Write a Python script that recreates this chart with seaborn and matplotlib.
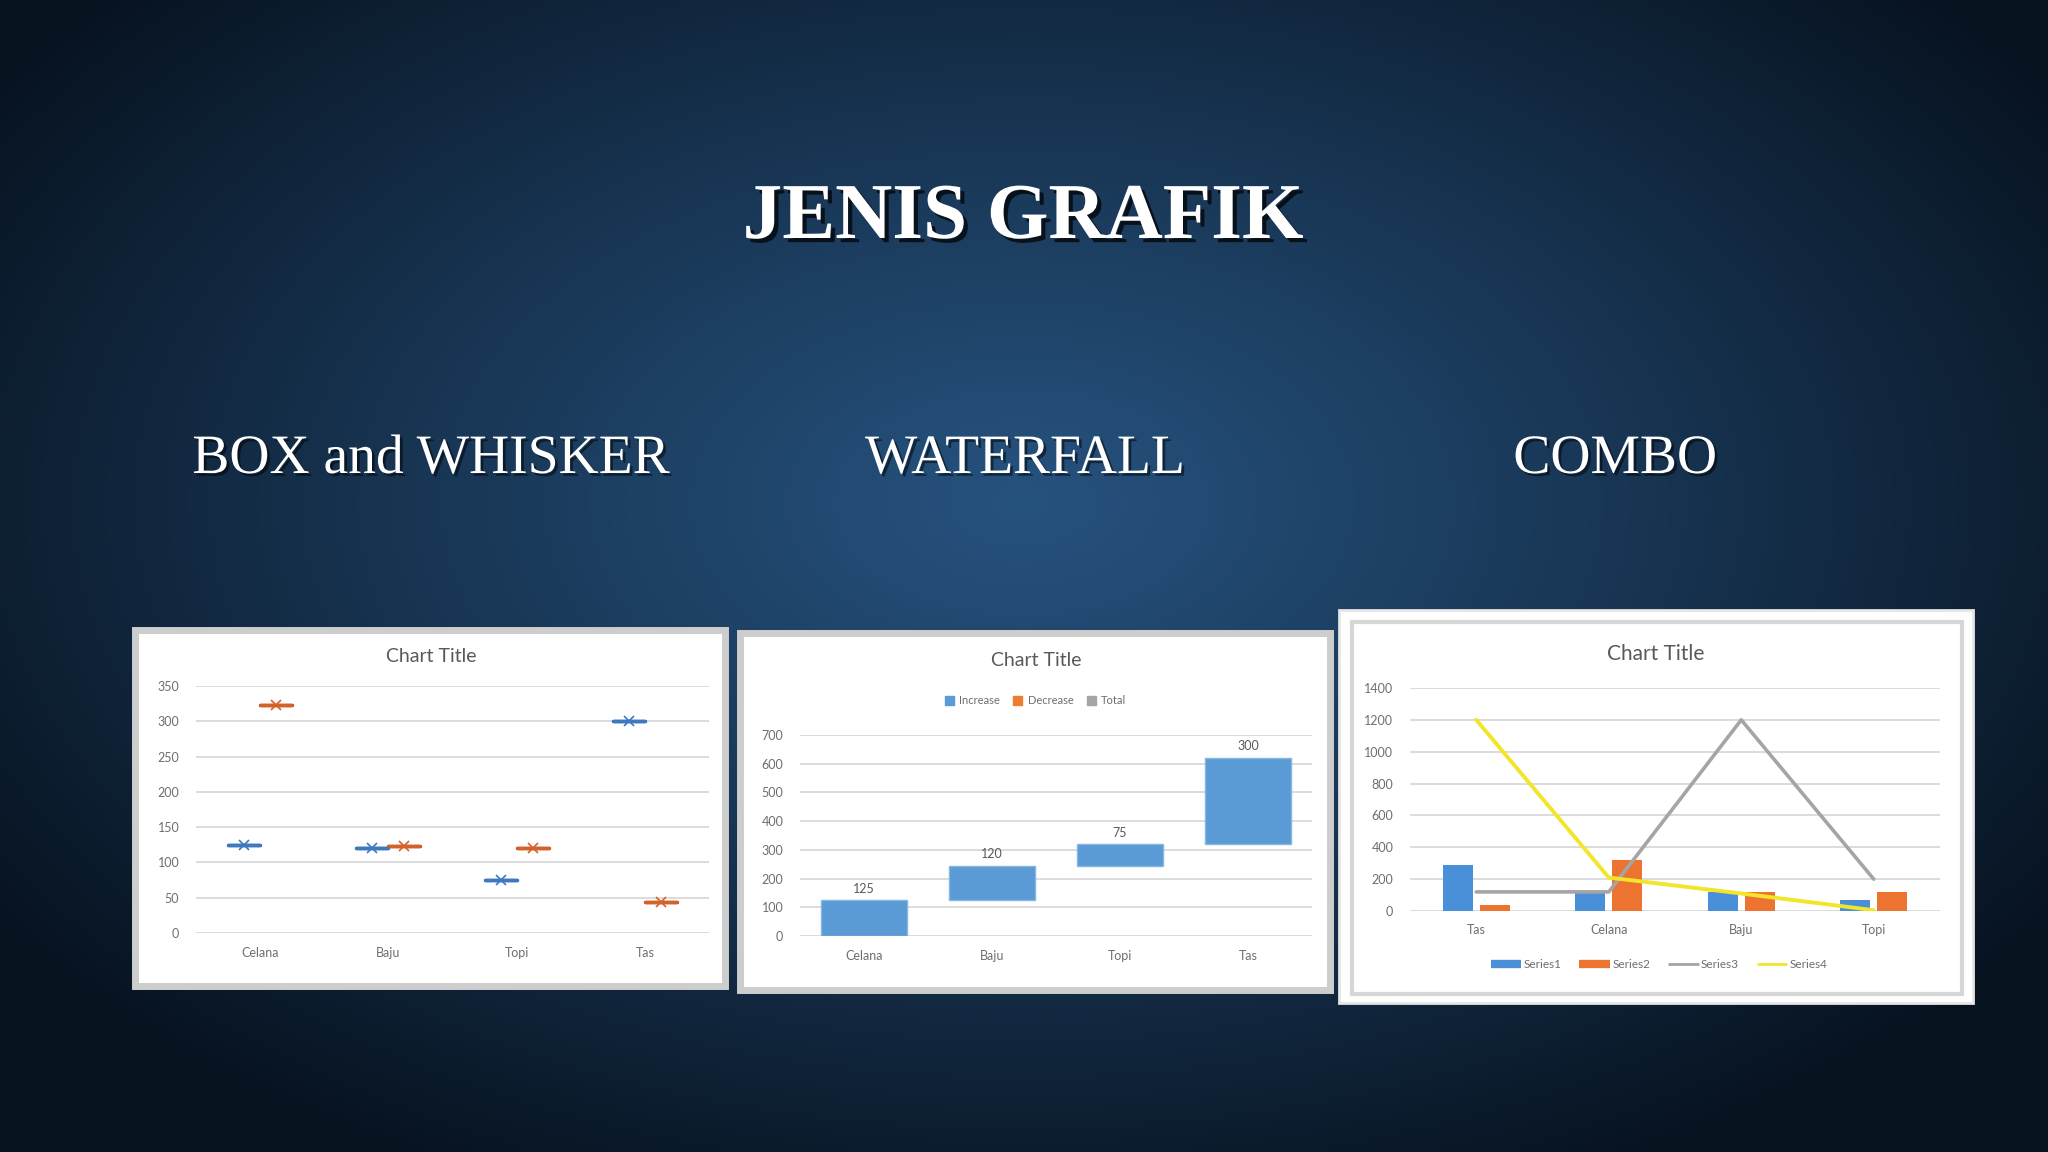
import numpy as np
import pandas as pd
import matplotlib
matplotlib.use("Agg")
import matplotlib.pyplot as plt
import matplotlib.patheffects as pe
import seaborn as sns
from matplotlib.patches import Rectangle, Patch
from matplotlib.lines import Line2D

# --- data: box and whisker ---
box_items = ["Celana", "Baju", "Topi", "Tas"]
box_seri1 = [125, 120, 75, 300]
box_seri2 = [323, 123, 120, 44]

# --- data: waterfall ---
wf_items = ["Celana", "Baju", "Topi", "Tas"]
wf_vals = [125, 120, 75, 300]
wf_labels = ["125", "120", "75", "300"]
wf_legend = ["Increase", "Decrease", "Total"]

# --- data: combo ---
combo_items = ["Tas", "Celana", "Baju", "Topi"]
combo_s1 = [290, 120, 120, 70]
combo_s2 = [40, 320, 120, 120]
combo_s3 = [120, 120, 1200, 200]
combo_s4 = [1200, 210, 110, 5]
combo_names = ["Series1", "Series2", "Series3", "Series4"]

W, H = 2048, 1152
GRID = "#D9D9D9"
TXT = "#6E6E6E"
BLUE, ORANGE, GRAY, YELLOW = "#4A90D9", "#EC7430", "#A5A5A5", "#F2E52A"

sns.set_theme(style="white")
plt.rcParams["font.family"] = ["Lato", "DejaVu Sans"]

fig = plt.figure(figsize=(20.48, 11.52), dpi=100)


def fax(x0, y0, x1, y1):
    # pixel box, origin top-left
    return fig.add_axes([x0 / W, 1 - y1 / H, (x1 - x0) / W, (y1 - y0) / H])


def panel(x0, y0, x1, y1, edge, lw):
    fig.add_artist(Rectangle((x0 / W, 1 - y1 / H), (x1 - x0) / W, (y1 - y0) / H,
                             transform=fig.transFigure, facecolor="white",
                             edgecolor=edge, linewidth=lw, zorder=0))


def gaya(ax, ymax, step, ypad=12, xpad=10):
    ax.set_xlim(-0.5, 3.5)
    ax.set_ylim(0, ymax)
    ax.set_yticks(np.arange(0, ymax + 1, step))
    ax.grid(axis="y", color=GRID, linewidth=1.3)
    ax.grid(axis="x", visible=False)
    ax.set_axisbelow(True)
    sns.despine(ax=ax, left=True, bottom=True)
    ax.tick_params(axis="y", length=0, labelsize=9, labelcolor=TXT, pad=ypad)
    ax.tick_params(axis="x", length=0, labelsize=9, labelcolor=TXT, pad=xpad)
    ax.set_xlabel("")
    ax.set_ylabel("")
    ax.set_facecolor("none")


# background
bg = fig.add_axes([0, 0, 1, 1], zorder=-10)
yy, xx = np.mgrid[0:H:4, 0:W:4]
r = np.sqrt(((xx - 1020) / 1250) ** 2 + ((yy - 500) / 760) ** 2)
t = np.clip(r, 0, 1) ** 1.1
c0 = np.array([38, 82, 126]) / 255
c1 = np.array([7, 18, 31]) / 255
img = c0 * (1 - t[..., None]) + c1 * t[..., None]
bg.imshow(img, extent=[0, W, H, 0], aspect="auto", interpolation="bilinear")
bg.set_axis_off()

# slide text
shadow = [pe.withSimplePatchShadow(offset=(3, -3), shadow_rgbFace="black", alpha=0.7)]
fig.text(1023 / W, 1 - 238 / H, "JENIS GRAFIK", family="Liberation Serif",
         weight="bold", fontsize=57, color="white", ha="center", va="baseline",
         path_effects=shadow)
soft = [pe.withSimplePatchShadow(offset=(2, -2), shadow_rgbFace="black", alpha=0.5)]
for xc, label in [(431, "BOX and WHISKER"), (1025, "WATERFALL"), (1615, "COMBO")]:
    fig.text(xc / W, 1 - 473 / H, label, family="Liberation Serif", fontsize=40,
             color="white", ha="center", va="baseline", path_effects=soft)

# ---------- box and whisker ----------
panel(135, 630, 725, 986, "#CDCDCD", 5)
ax1 = fax(196, 686, 709, 933)
box_df = pd.DataFrame({
    "item": box_items * 2,
    "nilai": box_seri1 + box_seri2,
    "seri": ["s1"] * len(box_items) + ["s2"] * len(box_items),
})
box_pal = {"s1": "#3E78BF", "s2": "#D2612A"}
sns.boxplot(data=box_df, x="item", y="nilai", hue="seri", palette=box_pal,
            width=0.5, fill=False, linewidth=2.4, showcaps=False, saturation=1,
            legend=False, ax=ax1)
sns.pointplot(data=box_df, x="item", y="nilai", hue="seri", palette=box_pal,
              dodge=0.25, markers="x", linestyles="none", errorbar=None,
              markersize=7, markeredgewidth=1.2, legend=False, ax=ax1)
gaya(ax1, 350, 50)
fig.text(431 / W, 1 - 657 / H, "Chart Title", fontsize=14, color="#595959",
         ha="center", va="center")

# ---------- waterfall ----------
panel(740, 633, 1330, 990, "#CDCDCD", 5)
ax2 = fax(800, 735, 1312, 936)
wf_bottom = np.concatenate([[0], np.cumsum(wf_vals)[:-1]])
sns.barplot(x=wf_items, y=wf_vals, bottom=wf_bottom, color="#5B9BD5",
            width=0.67, errorbar=None, saturation=1, linewidth=1,
            edgecolor="#86B6E2", ax=ax2)
ax2.bar_label(ax2.containers[0], labels=wf_labels, padding=4, fontsize=9,
              color="#595959")
gaya(ax2, 700, 100)
ax2.legend(handles=[Patch(color=c) for c in ["#5B9BD5", "#ED7D31", GRAY]],
           labels=wf_legend, loc="center", bbox_to_anchor=(0.46, 1.17), ncol=3,
           frameon=False, fontsize=8, handlelength=0.8, handleheight=0.8,
           handletextpad=0.5, columnspacing=1.2, labelcolor=TXT)
fig.text(1036 / W, 1 - 661 / H, "Chart Title", fontsize=14, color="#595959",
         ha="center", va="center")

# ---------- combo ----------
panel(1339, 610, 1973, 1003, "#E6E6E6", 2)
fig.add_artist(Rectangle((1352 / W, 1 - 994 / H), 610 / W, 372 / H,
                         transform=fig.transFigure, facecolor="white",
                         edgecolor="#D6D6D6", linewidth=3, zorder=0))
ax3 = fax(1410, 688, 1940, 911)
combo_df = pd.DataFrame({
    "item": combo_items * 2,
    "nilai": combo_s1 + combo_s2,
    "seri": [combo_names[0]] * 4 + [combo_names[1]] * 4,
})
sns.barplot(data=combo_df, x="item", y="nilai", hue="seri",
            palette=[BLUE, ORANGE], width=0.56, gap=0.2, errorbar=None,
            saturation=1, linewidth=0, legend=False, ax=ax3)
sns.lineplot(x=combo_items, y=combo_s3, color=GRAY, linewidth=2.6, sort=False,
             ax=ax3)
sns.lineplot(x=combo_items, y=combo_s4, color=YELLOW, linewidth=2.8, sort=False,
             ax=ax3)
gaya(ax3, 1400, 200, ypad=12, xpad=9)
ax3.legend(handles=[Line2D([], [], color=BLUE, lw=6, solid_capstyle="butt"),
                    Line2D([], [], color=ORANGE, lw=6, solid_capstyle="butt"),
                    Line2D([], [], color=GRAY, lw=2, solid_capstyle="butt"),
                    Line2D([], [], color=YELLOW, lw=2, solid_capstyle="butt")],
           labels=combo_names, loc="center", bbox_to_anchor=(0.47, -0.24), ncol=4,
           frameon=False, fontsize=8.5, handlelength=2.6, handletextpad=0.2,
           columnspacing=1.5, labelcolor=TXT)
fig.text(1656 / W, 1 - 654 / H, "Chart Title", fontsize=15, color="#595959",
         ha="center", va="center")

fig.savefig("out.png", dpi=100)
